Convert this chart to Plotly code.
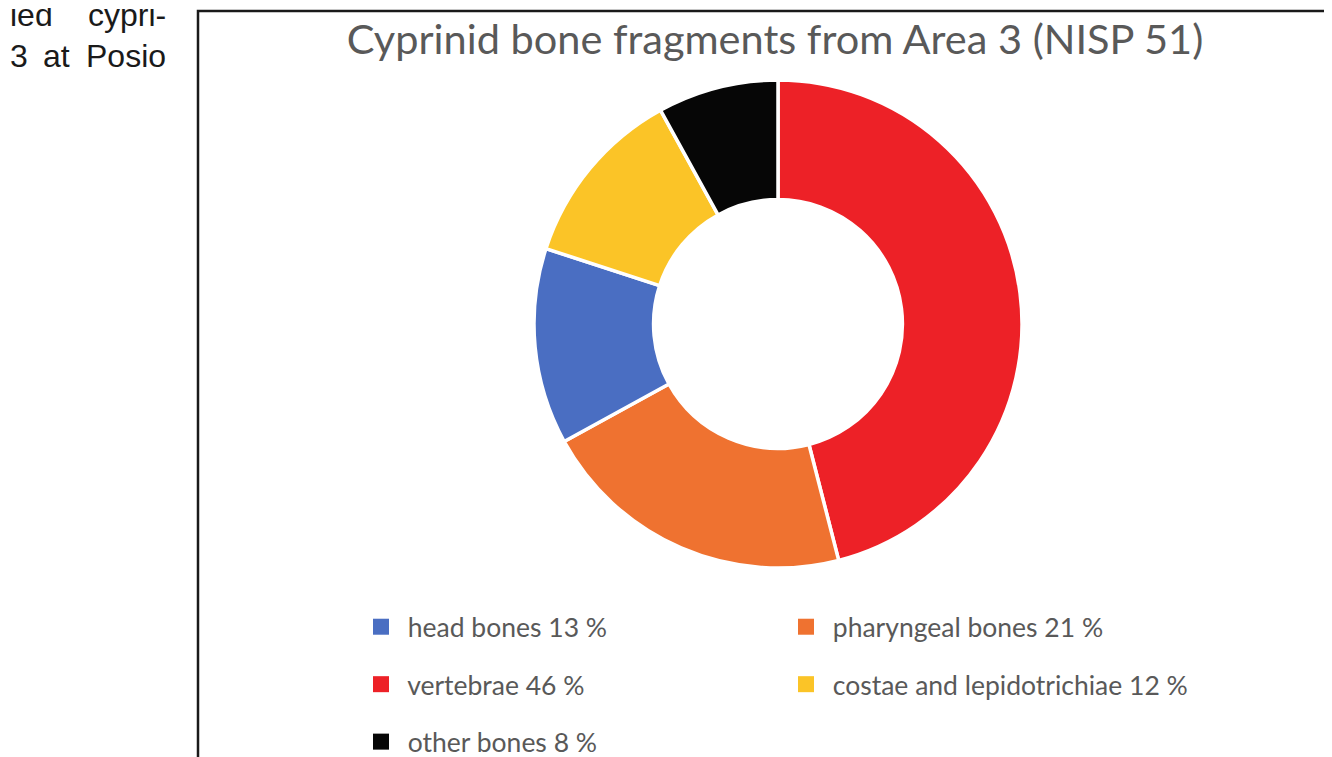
import plotly.graph_objects as go

W, H = 1332, 757
PAGE_PAD = 8  # the page body margin around the plot div

# slice data, in legend order
parts = ["head bones", "pharyngeal bones", "vertebrae", "costae and lepidotrichiae", "other bones"]
percent = [13, 21, 46, 12, 8]
colors = ["#4A6EC2", "#EF7230", "#ED2127", "#FBC427", "#060606"]

# order the slices go round the ring, clockwise from 12 o'clock
pie_order = ["vertebrae", "pharyngeal bones", "head bones", "costae and lepidotrichiae", "other bones"]

# which legend column each entry sits in
left_col = ["head bones", "vertebrae", "other bones"]

title_text = "Cyprinid bone fragments from Area 3 (NISP 51)"
grey = "#595959"


# convert window pixels into paper fractions
def px_x(v):
    return (v - PAGE_PAD) / W


def px_y(v):
    return 1 - (v - PAGE_PAD) / H


idx = [parts.index(p) for p in pie_order]
cx, cy, r = 778, 324, 244

fig = go.Figure()
fig.add_trace(go.Pie(
    labels=[parts[i] for i in idx],
    values=[percent[i] for i in idx],
    marker=dict(colors=[colors[i] for i in idx], line=dict(color="white", width=3.5)),
    hole=0.51,
    sort=False,
    direction="clockwise",
    rotation=0,
    textinfo="none",
    hoverinfo="label+percent",
    showlegend=False,
    domain=dict(x=[px_x(cx - r), px_x(cx + r)], y=[px_y(cy + r), px_y(cy - r)]),
))

# legend entries (square swatches)
for name, val, col in zip(parts, percent, colors):
    fig.add_trace(go.Scatter(
        x=[None], y=[None],
        mode="markers",
        marker=dict(symbol="square", size=16, color=col),
        name=f"\u00a0{name} {val} %",
        legendgroup=name,
        legend="legend" if name in left_col else "legend2",
    ))

legend_style = dict(
    font=dict(family="Lato", size=26.5, color=grey),
    bgcolor="rgba(0,0,0,0)",
    tracegroupgap=20,
    yanchor="top",
    xanchor="left",
    itemclick=False,
)

fig.update_layout(
    width=W, height=H,
    margin=dict(l=0, r=0, t=0, b=0, autoexpand=False),
    paper_bgcolor="white",
    plot_bgcolor="white",
    xaxis=dict(visible=False),
    yaxis=dict(visible=False),
    title=dict(
        text=title_text,
        font=dict(family="Lato", size=41.5, color=grey),
        x=px_x(775), xanchor="center",
        y=px_y(39), yanchor="middle",
    ),
    legend=dict(x=px_x(361), y=px_y(603), **legend_style),
    legend2=dict(x=px_x(786), y=px_y(603), **legend_style),
    shapes=[dict(
        type="rect", xref="paper", yref="paper",
        x0=px_x(198), x1=px_x(1326), y0=-0.05, y1=px_y(11),
        line=dict(color="#1a1a1a", width=2.5),
    )],
)

# bits of the surrounding page text that show at the left edge
side_font = dict(family="Liberation Sans", size=32, color="#1a1a1a")
side_words = [("ied", 8, 15, "left"), ("cypri-", 168, 15, "right"),
              ("3", 8, 56, "left"), ("at", 56, 56, "center"), ("Posio", 168, 56, "right")]
for word, wx, wy, anchor in side_words:
    fig.add_annotation(
        text=word, xref="paper", yref="paper",
        x=px_x(wx), y=px_y(wy), xanchor=anchor, yanchor="middle",
        showarrow=False, font=side_font,
    )

fig.write_html("out.html")
